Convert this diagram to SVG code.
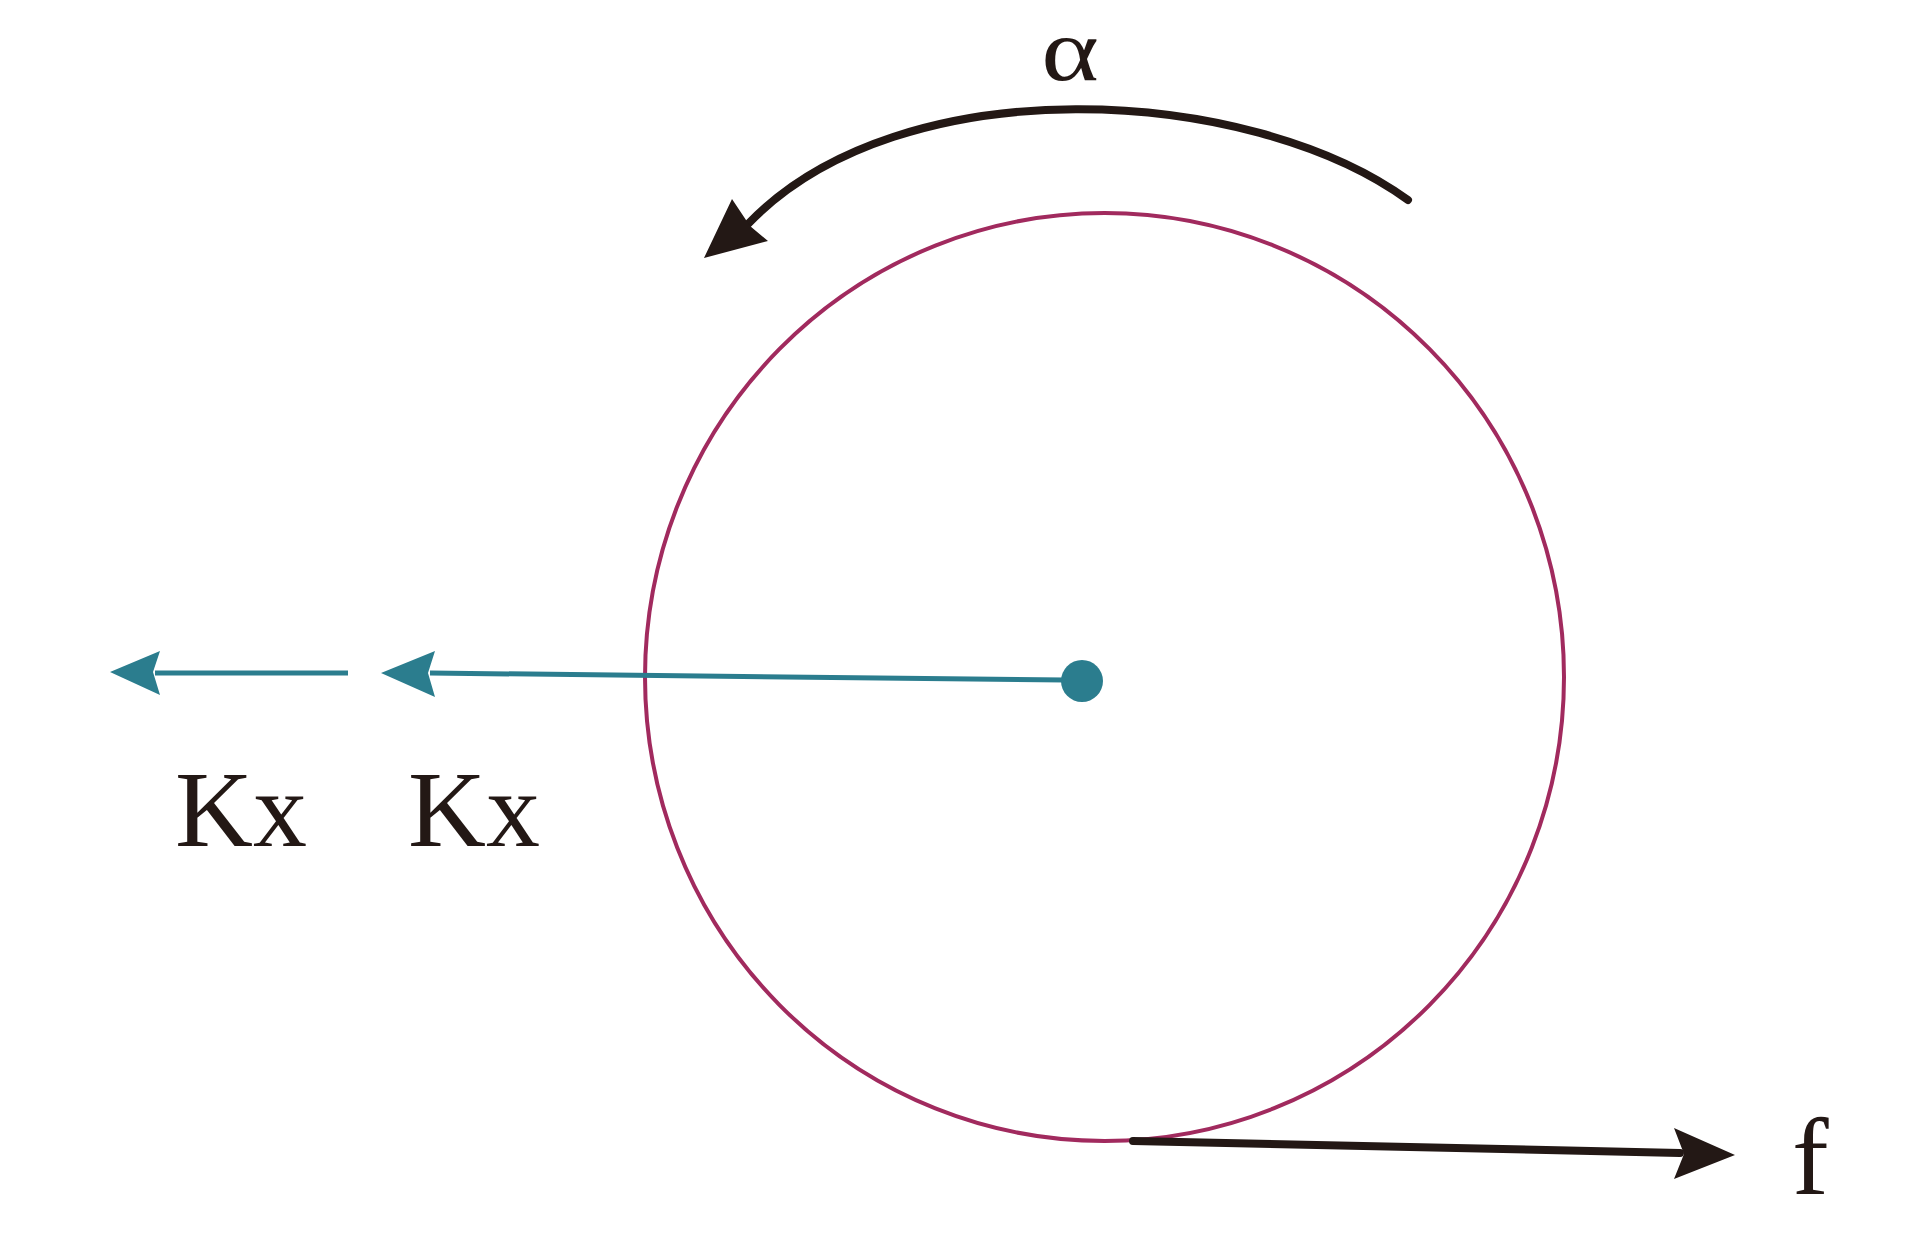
<svg xmlns="http://www.w3.org/2000/svg" width="1919" height="1254" viewBox="0 0 1919 1254">
<style>
.lbl{font-family:"Liberation Serif","DejaVu Serif",serif;fill:#231815}
.teal{stroke:#2b7d8e;fill:none;stroke-width:5}
.tealfill{fill:#2b7d8e}
.blk{stroke:#231815;fill:none;stroke-width:8;stroke-linecap:round}
.blkfill{fill:#231815}
</style>
<rect width="1919" height="1254" fill="#ffffff"/>
<g id="wheel">
<ellipse cx="1104.5" cy="677" rx="459.5" ry="464" fill="none" stroke="#a12a5e" stroke-width="4"/>
</g>
<g id="center">
<circle cx="1082" cy="681" r="21" class="tealfill"/>
</g>
<g id="connectors">
<path d="M1408,200 C1250,85 900,65 748,224" class="blk"/>
<polygon points="704,258 732,199 750,226 768,241" class="blkfill"/>
<path d="M1065,680 L430,673" class="teal"/>
<polygon points="381,673 435,651 428,673 435,697" class="tealfill"/>
<path d="M348,673 L155,673" class="teal"/>
<polygon points="110,672 160,651 153,672 160,695" class="tealfill"/>
<path d="M1133,1141 L1680,1153" class="blk"/>
<polygon points="1735,1155 1674,1128 1684,1154 1674,1179" class="blkfill"/>
</g>
<g id="labels">
<text class="lbl" transform="translate(1070,80) scale(1.25,1)" x="0" y="0" font-size="88" text-anchor="middle">α</text>
<text class="lbl" x="175" y="846" font-size="108">Kx</text>
<text class="lbl" x="408" y="846" font-size="108">Kx</text>
<text class="lbl" x="1792" y="1194" font-size="110">f</text>
</g>
</svg>
